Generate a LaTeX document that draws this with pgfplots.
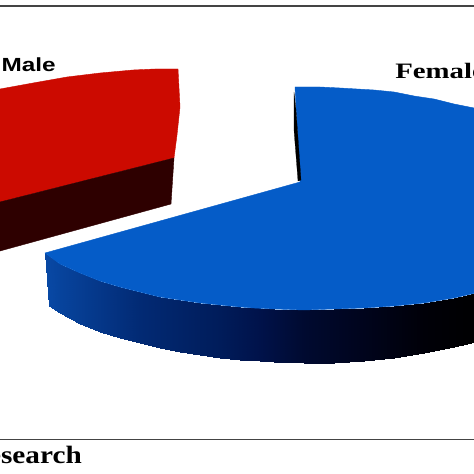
\documentclass[border=0pt]{standalone}
\usepackage{pgfplots}
\usepackage{pgfplotstable}
\pgfplotsset{compat=1.18}
\usepackage{fontspec}
\setmainfont{Liberation Serif}
\newfontfamily\labelsans{Liberation Sans}
\definecolor{topblue}{HTML}{055CC8}
\definecolor{topred}{HTML}{CC0A00}
\definecolor{darkred}{HTML}{2E0000}
\definecolor{rulegray}{HTML}{444444}
% outer wall of the blue slice: top row, then bottom row; c is the shade
\pgfplotstableread{
x y c
45 253 0
60 264 15
80 273 35
100 281 55
120 287 75
140 292 95
160 297 115
180 300 135
200 303 155
220 305 175
240 307 195
260 308 215
274 309 229
304 310 259
334 309 289
364 308 319
394 306 349
424 303 379
454 298 409
480 292 435
49 306 0
60 313 15
80 324 35
100 332 55
120 338 75
140 343 95
160 348 115
180 352 135
200 355 155
220 358 175
240 360 195
260 361 215
274 362 229
304 363 259
334 363 289
364 361 319
394 358 349
424 353 379
454 347 409
480 341 435
}\bluewall
\begin{document}
\begin{tikzpicture}
\path[use as bounding box] (0,0) rectangle (474bp,474bp);
\clip (0,0) rectangle (474bp,474bp);
\begin{axis}[
  at={(0,0)}, anchor=south west,
  scale only axis, width=474bp, height=474bp,
  xmin=0, xmax=474, ymin=0, ymax=474,
  y dir=reverse, hide axis,
  point meta min=0, point meta max=435,
  colormap={wall}{rgb255(0)=(8,72,164) rgb255(95)=(2,42,116) rgb255(175)=(0,28,90) rgb255(215)=(0,18,74) rgb255(259)=(0,10,48) rgb255(319)=(0,4,28) rgb255(379)=(0,0,8) rgb255(435)=(0,0,0)}
]
% red slice, top and front wall
\addplot[fill=topred, draw=topred] coordinates {(-5,90) (0,89) (33,83) (67,77) (100,73) (133,70) (155,69) (178,69) (180,107) (177,135) (174,158) (0,202) (-5,203)} -- cycle;
\addplot[fill=darkred, draw=darkred] coordinates {(-5,203) (0,202) (174,158) (171,204) (0,251) (-5,252)} -- cycle;
% blue wall
\addplot[surf, shader=interp, mesh/rows=2, mesh/ordering=x varies, point meta=explicit] table[x=x, y=y, meta=c] {\bluewall};
% blue top surface
\addplot[fill=topblue, draw=topblue] coordinates {(295,87) (320,87) (340,88) (374,90) (394,92) (414,96) (434,99) (454,104) (474,108) (480,110) (480,292) (454,298) (424,303) (394,306) (364,308) (334,309) (304,310) (274,309) (254,308) (240,307) (220,305) (200,303) (180,300) (160,297) (140,292) (120,287) (100,281) (80,273) (60,264) (45,253) (300,182)} -- cycle;
\addplot[fill=black, draw=black, line width=0.2pt] coordinates {(294,92) (296,110) (301,180) (298,181) (294,130)} -- cycle;
% frame rules
\addplot[rulegray, line width=2.2pt] coordinates {(0,6) (474,6)};
\addplot[rulegray, line width=1.6pt] coordinates {(0,439.5) (474,439.5)};
\node[anchor=base east, inner sep=0pt, xscale=1.28] at (axis cs:56,72) {\labelsans\bfseries\fontsize{19bp}{19bp}\selectfont Male};
\node[anchor=base west, inner sep=0pt, xscale=1.31] at (axis cs:395,79) {\bfseries\fontsize{22bp}{22bp}\selectfont Female};
\node[anchor=base east, inner sep=0pt, xscale=1.17] at (axis cs:82,463) {\bfseries\fontsize{25bp}{25bp}\selectfont Research};
\end{axis}
\end{tikzpicture}
\end{document}
